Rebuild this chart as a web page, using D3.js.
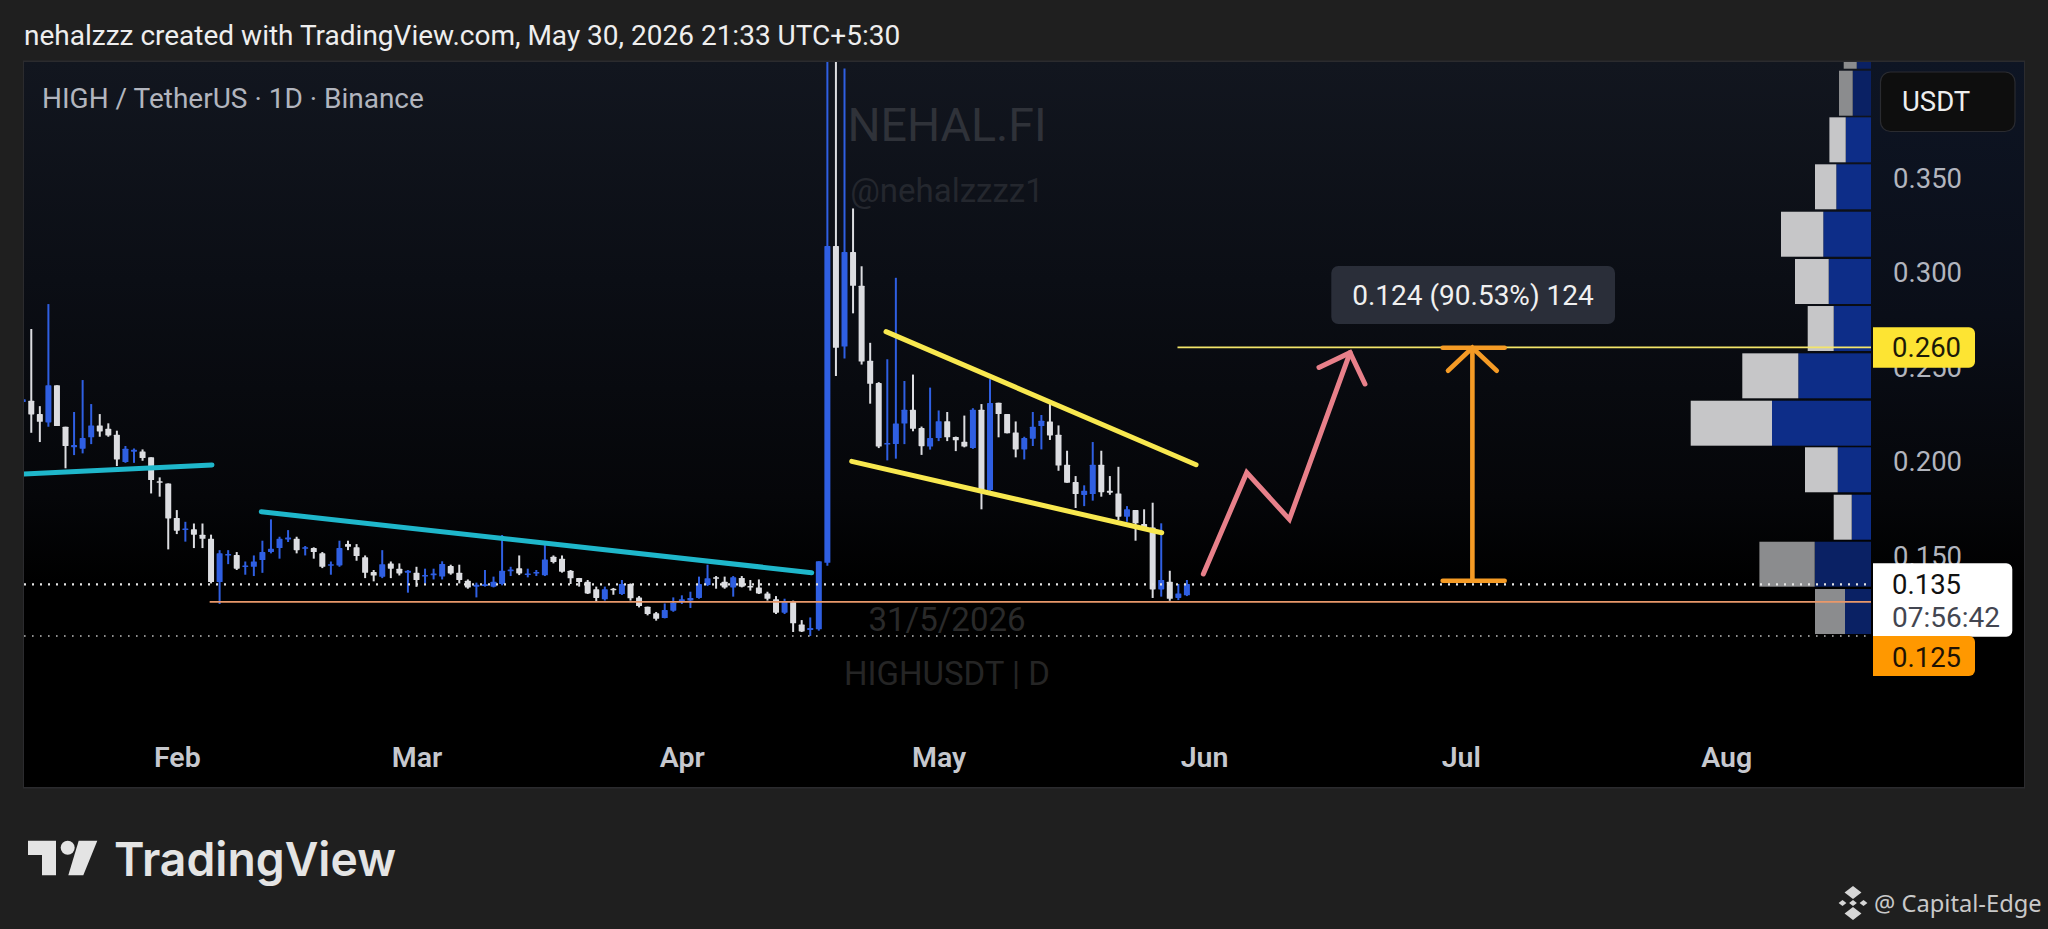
<!DOCTYPE html>
<html><head><meta charset="utf-8">
<script src="https://cdn.jsdelivr.net/npm/d3@7"></script>
<style>html,body{margin:0;padding:0;background:#1f1f1f;overflow:hidden}svg{display:block}text{font-family:Roboto,sans-serif}</style>
</head><body><svg id="c" width="2048" height="929"></svg>
<script>
const highs=[.2397,.2702,.2294,.2834,.2404,.2185,.2263,.2432,.2305,.2252,.2203,.2164,.2083,.2070,.2065,.2023,.1917,.1885,
.1744,.1682,.1673,.1673,.1614,.1532,.1532,.1522,.1472,.1504,.1582,.1695,.1603,.1638,.1603,.1554,.1547,.1522,.1472,.1582,.1582,.1564,.1504,.1427,.1532,.1472,.1462,.1427,
.1444,.1434,.1434,.1473,.1455,.1455,.1377,.1360,.1427,.1392,.1612,.1444,.1504,.1434,.1427,.1559,.1504,.1504,.1427,.1385,.1374,.1339,.1339,.1332,.1374,.1356,.1289,.1233,.1205,.1250,.1282,
.1293,.1312,.1392,.1455,.1395,.1392,.1395,.1395,.1374,.1377,.1312,.1289,.1275,.1265,.1162,.1176,.1473,.46,.46,.4081,.3340,.3034,.2629,.2421,.2542,.2973,.2427,.2461,.2186,.2392,
.2271,.2263,.2133,.2244,.2283,.2305,.2437,.2312,.2252,.2213,.2132,.2263,.2247,.2305,.2192,.2058,.1924,.1875,.2104,.2058,.1924,.1973,.1765,.1744,.1748,.1783,.1674,.1423,.1353,.1374];
const lows=[.2308,.2153,.2104,.2185,.2189,.1965,.2035,.2044,.2093,.2132,.2132,.1977,.1994,.1994,.2005,.1832,.1815,.1536,
.1617,.1577,.1543,.1543,.1356,.1247,.1458,.1427,.1402,.1395,.1412,.1515,.1487,.1575,.1515,.1504,.1487,.1437,.1402,.1444,.1532,.1476,.1384,.1367,.1384,.1384,.1398,.1307,
.1338,.1356,.1377,.1377,.1402,.1356,.1328,.1282,.1339,.1335,.1346,.1395,.1400,.1388,.1395,.1395,.1462,.1413,.1353,.1339,.1300,.1261,.1265,.1296,.1295,.1265,.1229,.1187,.1159,.1171,.1206,
.1247,.1226,.1275,.1342,.1328,.1328,.1286,.1335,.1318,.1300,.1265,.1194,.1194,.1099,.1099,.1078,.1106,.1449,.2453,.2546,.2785,.2514,.2307,.2072,.2007,.2016,.2093,.2161,.2036,.2064,
.2109,.2109,.2056,.2076,.2068,.1748,.1846,.2129,.2150,.2023,.2012,.2083,.2065,.2115,.1952,.1889,.1755,.1765,.1794,.1815,.1825,.1691,.1682,.1582,.1647,.1279,.1286,.1264,.1268,.1289];
const opens=[.2316,.2323,.2252,.2208,.2404,.2185,.2077,.2069,.2129,.2192,.2174,.2143,.1998,.2053,.2054,.2023,.1896,.1885,
.1702,.1638,.1642,.1614,.1592,.1363,.1504,.1506,.1444,.1444,.1480,.1522,.1543,.1589,.1592,.1540,.1543,.1515,.1451,.1451,.1564,.1547,.1494,.1416,.1391,.1462,.1434,.1412,
.1412,.1392,.1399,.1392,.1448,.1413,.1370,.1339,.1342,.1339,.1353,.1420,.1436,.1400,.1409,.1399,.1497,.1487,.1423,.1385,.1365,.1325,.1272,.1328,.1300,.1353,.1282,.1233,.1198,.1173,.1212,
.1261,.1265,.1279,.1347,.1388,.1365,.1335,.1385,.1342,.1335,.1303,.1272,.1201,.1258,.1138,.1109,.1113,.1465,.3141,.2609,.3109,.2931,.2534,.2416,.2091,.2093,.2202,.2275,.2178,.2080,
.2125,.2214,.2131,.2105,.2072,.2275,.1850,.2312,.2252,.2155,.2065,.2122,.2189,.2213,.2143,.1984,.1892,.1824,.1829,.1984,.1846,.1832,.1709,.1744,.1670,.1652,.1324,.1365,.1279,.1293];
const closes=[.2330,.2250,.2211,.2404,.2189,.2083,.2088,.2125,.2192,.2160,.2139,.2012,.2069,.2063,.2019,.1903,.1889,.1700,
.1635,.1647,.1614,.1592,.1363,.1515,.1511,.1434,.1451,.1472,.1522,.1539,.1592,.1599,.1532,.1547,.1522,.1444,.1458,.1543,.1550,.1501,.1412,.1398,.1458,.1434,.1409,.1423,
.1374,.1400,.1409,.1459,.1409,.1374,.1335,.1349,.1351,.1365,.1423,.1430,.1409,.1409,.1416,.1483,.1469,.1418,.1383,.1363,.1303,.1279,.1325,.1321,.1353,.1277,.1236,.1194,.1169,.1215,.1254,
.1272,.1279,.1353,.1383,.1381,.1335,.1388,.1339,.1335,.1303,.1275,.1201,.1258,.1145,.1102,.1120,.1473,.3141,.2603,.3109,.2931,.2530,.2412,.2080,.2099,.2202,.2275,.2174,.2082,.2125,
.2214,.2129,.2113,.2080,.2275,.1850,.2311,.2252,.2150,.2065,.2125,.2185,.2217,.2139,.1980,.1889,.1829,.1846,.1984,.1839,.1836,.1709,.1748,.1674,.1652,.1324,.1374,.1275,.1303,.1353];
const firstDay=Date.UTC(2026,0,14);

// visible range volume profile: bin lower edges, up and down volume (top bin first)
const binLows=[.40793,.38307,.35841,.33355,.30846,.28344,.25857,.23354,.20847,.18382,.15873,.13386,.10883];
const binSize=.0238;
const upVol=[14.3,18.3,25.3,34.7,47.7,42.3,37.3,72.7,99,33.3,19.3,56.3,26];
const downVol=[13,13.7,16.3,21.3,42.3,33.7,26,56,81.3,32.7,18,55.3,30];
const dimBins=[0,1,11,12];

const priceTicks=[.35,.30,.25,.20,.15];
const monthTicks=[[2026,1],[2026,2],[2026,3],[2026,4],[2026,5],[2026,6],[2026,7]];
const monthNames=["Feb","Mar","Apr","May","Jun","Jul","Aug"];

// drawings: [days after 1 Feb, price]
const cyanA=[[-17.85,.1935],[4.11,.1983]];
const cyanB=[[9.87,.1735],[74.17,.1413]];
const wedgeUp=[[82.85,.2688],[119.07,.1984]];
const wedgeLow=[[78.84,.2002],[115.06,.1624]];
const pinkPath=[[119.92,.1406],[124.99,.1942],[129.97,.1695],[137.06,.2577]];
const pinkHead=[[133.43,.2499],[137.06,.2577],[138.8,.2411]];
const targetArrowX=151.35, targetBarX=[147.88,155.12], targetHeadX=[148.5,154.2];
const targetFrom=.1370,targetTo=.2603,targetHeadP=.2481;
const levelTarget=.2605,levelTargetFrom=116.9;
const levelSupport=.1258,levelSupportFrom=3.84;
const lastPrice=.1351,rangeLow=.1078;
const wm={name:"NEHAL.FI",handle:"@nehalzzzz1",date:"31/5/2026",sym:"HIGHUSDT | D"};

const svg=d3.select("#c");
const L=24,R=2024,T=62,B=787,AX=1871;
const defs=svg.append("defs");
const g1=defs.append("linearGradient").attr("id","bg").attr("x1",0).attr("y1",0).attr("x2",0).attr("y2",1);
[[0,"#12161f"],[.3,"#0b0e15"],[.6,"#050609"],[.72,"#000"],[1,"#000"]].forEach(s=>g1.append("stop").attr("offset",s[0]).attr("stop-color",s[1]));
const g2=defs.append("linearGradient").attr("id","bg2").attr("x1",0).attr("y1",0).attr("x2",0).attr("y2",1);
[[0,"#0e1524"],[.35,"#0a0e18"],[.6,"#050609"],[.72,"#000"],[1,"#000"]].forEach(s=>g2.append("stop").attr("offset",s[0]).attr("stop-color",s[1]));
defs.append("clipPath").attr("id","plot").append("rect").attr("x",L).attr("y",T).attr("width",AX-L).attr("height",B-T);

svg.append("rect").attr("width",2048).attr("height",929).attr("fill","#1f1f1f");
svg.append("rect").attr("x",L-1).attr("y",T-1.5).attr("width",R-L+2).attr("height",B-T+3).attr("fill","#2b2b2e");
svg.append("rect").attr("x",L).attr("y",T).attr("width",AX-L).attr("height",B-T).attr("fill","url(#bg)");
svg.append("rect").attr("x",AX).attr("y",T).attr("width",R-AX).attr("height",B-T).attr("fill","url(#bg2)");

const day0=Date.UTC(2026,1,1);
const x=d3.scaleUtc().domain([new Date(day0),new Date(Date.UTC(2026,7,1))]).range([176.8,1726.2]);
const y=d3.scaleLinear().domain([.30,.15]).range([272.7,556.2]);
const xd=d=>x(new Date(day0+d*864e5));
const vol=d3.scaleLinear().domain([0,180]).range([0,180]);

svg.append("text").attr("x",24).attr("y",45).attr("fill","#eeeeee").attr("font-size",28).text("nehalzzz created with TradingView.com, May 30, 2026 21:33 UTC+5:30");

const plot=svg.append("g").attr("clip-path","url(#plot)");

// watermarks
const wmG=plot.append("g").attr("text-anchor","middle");
wmG.append("text").attr("x",947).attr("y",141).attr("font-size",46.5).attr("fill","#2f3239").text(wm.name);
wmG.append("text").attr("x",947).attr("y",202).attr("font-size",33).attr("fill","#24272e").text(wm.handle);
wmG.append("text").attr("x",947).attr("y",631).attr("font-size",33).attr("fill","#2a2a2a").text(wm.date);
wmG.append("text").attr("x",947).attr("y",684.5).attr("font-size",33).attr("fill","#252525").text(wm.sym);

// volume profile
const vp=plot.append("g");
binLows.forEach((lo,i)=>{
  const top=y(lo+binSize),bot=y(lo),dim=dimBins.includes(i);
  const u=vol(upVol[i]),dn=vol(downVol[i]);
  vp.append("rect").attr("x",AX-u).attr("y",top).attr("width",u).attr("height",bot-top).attr("fill",dim?"#0a2164":"#0d2d88");
  vp.append("rect").attr("x",AX-u-dn).attr("y",top).attr("width",dn).attr("height",bot-top).attr("fill",dim?"#8b8c8e":"#c6c6c8");
});

// candles
const candles=highs.map((h,i)=>({date:new Date(firstDay+i*864e5),h,l:lows[i],o:opens[i],c:closes[i]}));
const colr=d=>d.c>=d.o?"#2f5fe2":"#dcdde1";
const cg=plot.append("g");
cg.selectAll("line").data(candles).join("line")
  .attr("x1",d=>x(d.date)).attr("x2",d=>x(d.date)).attr("y1",d=>y(d.h)).attr("y2",d=>y(d.l))
  .attr("stroke",colr).attr("stroke-width",2);
cg.selectAll("rect").data(candles).join("rect")
  .attr("x",d=>x(d.date)-3).attr("width",6)
  .attr("y",d=>y(Math.max(d.o,d.c))).attr("height",d=>Math.max(1.5,Math.abs(y(d.o)-y(d.c))))
  .attr("rx",.6).attr("fill",colr);

// dotted price lines
plot.append("line").attr("x1",L).attr("x2",AX).attr("y1",y(lastPrice)).attr("y2",y(lastPrice)).attr("stroke","#e6e6e6").attr("stroke-width",2.2).attr("stroke-dasharray","2 6");
plot.append("line").attr("x1",L).attr("x2",AX).attr("y1",y(rangeLow)).attr("y2",y(rangeLow)).attr("stroke","#bdbdbd").attr("stroke-width",1.6).attr("stroke-dasharray","1.6 6.4");

// drawings
const ln=d3.line().x(d=>xd(d[0])).y(d=>y(d[1]));
const draw=plot.append("g").attr("fill","none").attr("stroke-linecap","round").attr("stroke-linejoin","miter");
draw.append("path").attr("d",ln(cyanA)).attr("stroke","#1fb7cb").attr("stroke-width",5);
draw.append("path").attr("d",ln(cyanB)).attr("stroke","#1fb7cb").attr("stroke-width",5);
draw.append("path").attr("d",ln(wedgeUp)).attr("stroke","#f8e84f").attr("stroke-width",5);
draw.append("path").attr("d",ln(wedgeLow)).attr("stroke","#f8e84f").attr("stroke-width",5);
draw.append("path").attr("d",ln([[levelSupportFrom,levelSupport],[200,levelSupport]])).attr("stroke","#e9986a").attr("stroke-width",1.8).attr("stroke-linecap","butt");
draw.append("path").attr("d",ln([[levelTargetFrom,levelTarget],[200,levelTarget]])).attr("stroke","#f3e56a").attr("stroke-width",1.8).attr("stroke-linecap","butt");
draw.append("path").attr("d",ln(pinkPath)).attr("stroke","#e8808a").attr("stroke-width",5);
draw.append("path").attr("d",ln(pinkHead)).attr("stroke","#e8808a").attr("stroke-width",5);
const org="#f59b25";
draw.append("path").attr("d",ln([[targetArrowX,targetFrom],[targetArrowX,targetTo]])).attr("stroke",org).attr("stroke-width",4.6);
draw.append("path").attr("d",ln([[targetBarX[0],targetFrom],[targetBarX[1],targetFrom]])).attr("stroke",org).attr("stroke-width",4.6);
draw.append("path").attr("d",ln([[targetBarX[0],targetTo],[targetBarX[1],targetTo]])).attr("stroke",org).attr("stroke-width",4.6);
draw.append("path").attr("d",ln([[targetHeadX[0],targetHeadP],[targetArrowX,targetTo],[targetHeadX[1],targetHeadP]])).attr("stroke",org).attr("stroke-width",4.6);

// measure label
svg.append("rect").attr("x",1331.3).attr("y",266).attr("width",283.7).attr("height",58).attr("rx",7).attr("fill","#2a2e39");
svg.append("text").attr("x",1473).attr("y",305).attr("text-anchor","middle").attr("font-size",28).attr("fill","#f0f0f0").text("0.124 (90.53%) 124");

svg.append("text").attr("x",42).attr("y",107.5).attr("font-size",28).attr("fill","#b2b5be").text("HIGH / TetherUS · 1D · Binance");

// axes
const yAxis=d3.axisRight(y).tickValues(priceTicks).tickFormat(d3.format(".3f")).tickSize(0).tickPadding(22);
const ya=svg.append("g").attr("transform",`translate(${AX},0)`).call(yAxis);
ya.select(".domain").remove();
ya.selectAll("text").attr("font-size",27.5).attr("fill","#b2b5be").style("font-family","Roboto");

const monthDates=monthTicks.map(m=>new Date(Date.UTC(m[0],m[1],1)));
const xAxis=d3.axisBottom(x).tickValues(monthDates).tickFormat((d,i)=>monthNames[i]).tickSize(0);
const xa=svg.append("g").attr("transform","translate(0,757)").call(xAxis);
xa.select(".domain").remove();
xa.selectAll("text").attr("y",0).attr("dy",".36em").attr("font-size",28.5).attr("font-weight",600).attr("fill","#c6c8ce").style("font-family","Roboto");

// USDT
svg.append("rect").attr("x",1880.5).attr("y",72).attr("width",134.5).attr("height",59.5).attr("rx",10).attr("fill","#0e0e0e").attr("stroke","#2a2b30").attr("stroke-width",1.2);
svg.append("text").attr("x",1902).attr("y",110.5).attr("font-size",27.5).attr("fill","#eeeeee").text("USDT");

// price tags
function tag(xr,top,h,fill){return svg.append("path").attr("d",`M1873 ${top}H${xr-6}a6 6 0 0 1 6 6V${top+h-6}a6 6 0 0 1 -6 6H1873Z`).attr("fill",fill);}
tag(1975,327.3,40.4,"#fde433");
svg.append("text").attr("x",1892).attr("y",357).attr("font-size",27.5).attr("fill","#1c1a08").text("0.260");
tag(2012.3,563.3,73.4,"#ffffff");
svg.append("text").attr("x",1892).attr("y",594).attr("font-size",27.5).attr("fill","#111").text("0.135");
svg.append("text").attr("x",1892).attr("y",626.5).attr("font-size",28).attr("fill","#434651").text("07:56:42");
tag(1975,636,40,"#ff9800");
svg.append("text").attr("x",1892).attr("y",666.5).attr("font-size",27.5).attr("fill","#1d1204").text("0.125");

// TradingView logo
const lg=svg.append("g").attr("fill","#e4e4e4");
lg.append("path").attr("d","M28 840.7H56V875.3H42V855H28Z");
lg.append("circle").attr("cx",67.7).attr("cy",847.7).attr("r",7);
lg.append("path").attr("d","M78.7 840.7H97.3L83.3 875.3H68.3Z");
svg.append("text").attr("x",114).attr("y",875.5).attr("font-size",47).attr("font-weight",600).attr("fill","#e4e4e4").attr("textLength",282).attr("lengthAdjust","spacingAndGlyphs").style("font-family","Inter").text("TradingView");

// signature
const sg=svg.append("g").attr("fill","#d6d6d6");
[[1853,892.5,6.5],[1853,913.5,6.5],[1842.5,903,3],[1863.5,903,3],[1853,903,3]].forEach(d=>{
  sg.append("path").attr("d",`M${d[0]} ${d[1]-d[2]}L${d[0]+d[2]*1.3} ${d[1]}L${d[0]} ${d[1]+d[2]}L${d[0]-d[2]*1.3} ${d[1]}Z`);
});
svg.append("text").attr("x",1874).attr("y",911.5).attr("font-size",23.7).attr("fill","#c9c9c9").style("font-family","'Noto Sans'").text("@ Capital-Edge");
</script></body></html>
